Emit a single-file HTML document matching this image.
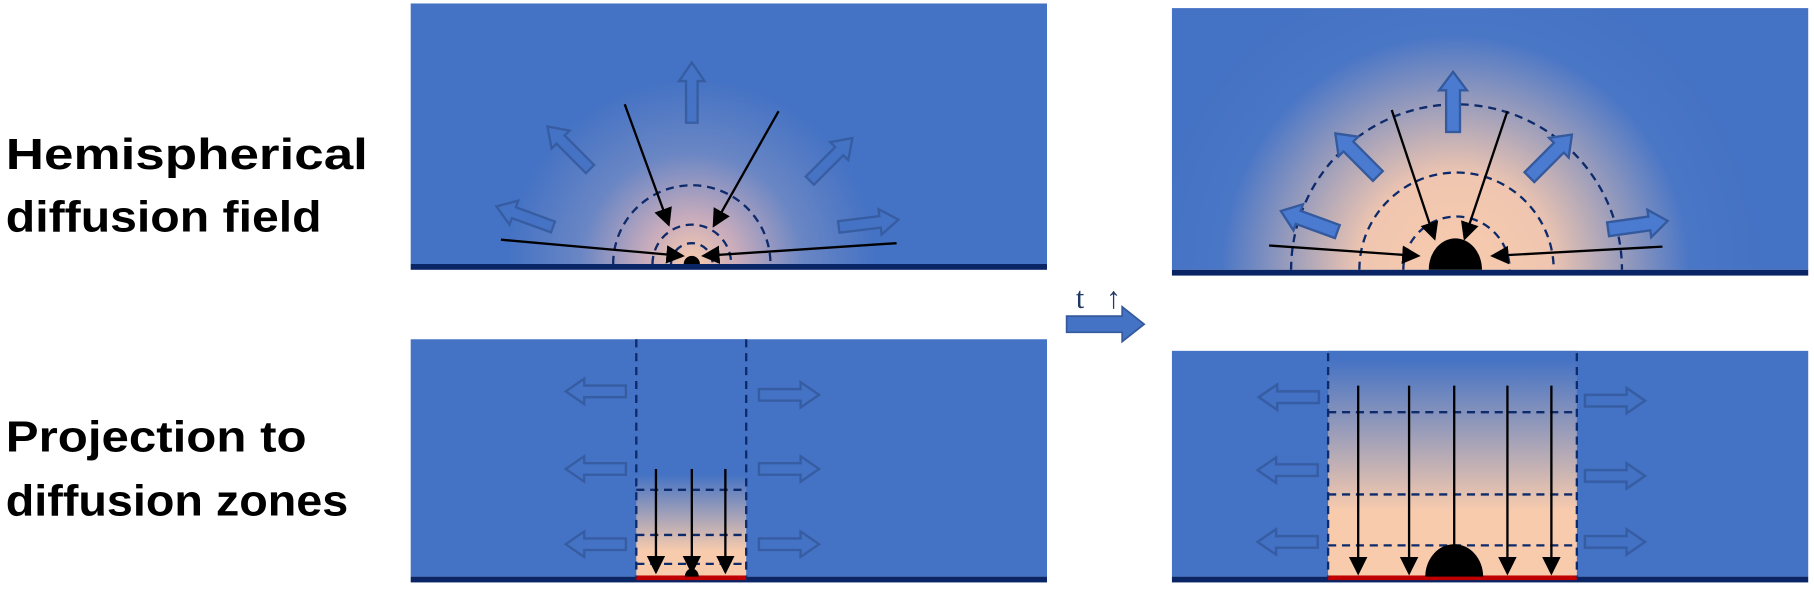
<!DOCTYPE html>
<html><head><meta charset="utf-8"><style>html,body{margin:0;padding:0;background:#fff}svg{display:block}</style></head><body>
<svg width="1814" height="594" viewBox="0 0 1568 513" preserveAspectRatio="none" xmlns="http://www.w3.org/2000/svg">
<defs>
<radialGradient id="g1" cx="598" cy="228" r="160" gradientUnits="userSpaceOnUse">
<stop offset="0" stop-color="#F8CBAD"/><stop offset="0.25" stop-color="#c8acbc"/><stop offset="0.6" stop-color="#6a86c4"/><stop offset="1" stop-color="#4472C4"/></radialGradient>
<radialGradient id="g2" cx="1258" cy="233" r="270" gradientUnits="userSpaceOnUse">
<stop offset="0" stop-color="#F8CBAD"/><stop offset="0.3" stop-color="#f0c6b0"/><stop offset="0.75" stop-color="#4a76c6"/><stop offset="1" stop-color="#4472C4"/></radialGradient>
<linearGradient id="l1" x1="0" y1="410" x2="0" y2="498" gradientUnits="userSpaceOnUse">
<stop offset="0" stop-color="#4472C4"/><stop offset="0.75" stop-color="#F8CBAD"/></linearGradient>
<linearGradient id="l2" x1="0" y1="310" x2="0" y2="498" gradientUnits="userSpaceOnUse">
<stop offset="0" stop-color="#4472C4"/><stop offset="0.7" stop-color="#F8CBAD"/></linearGradient>
<marker id="ah" markerWidth="8" markerHeight="8" refX="7" refY="4" orient="auto" markerUnits="strokeWidth"><path d="M0,0 L8,4 L0,8z" fill="#000"/></marker>
</defs>
<!-- left top -->
<rect x="355" y="3" width="550" height="225" fill="url(#g1)"/>
<rect x="355" y="228" width="550" height="5" fill="#0a2566"/>
<g fill="none" stroke="#0d2a6b" stroke-width="2" stroke-dasharray="7,5">
<path d="M530,228 A68,68 0 0 1 666,228"/><path d="M564,228 A34,34 0 0 1 632,228"/><path d="M580,228 A18,18 0 0 1 616,228"/></g>
<path d="M591,228 A7,7 0 0 1 605,228z" fill="#000"/>
<g stroke="#000" stroke-width="2" marker-end="url(#ah)">
<line x1="540" y1="90" x2="578" y2="194"/><line x1="673" y1="96" x2="617" y2="195"/>
<line x1="433" y1="207" x2="590" y2="221"/><line x1="775" y1="210" x2="608" y2="221"/></g>
<g fill="#4472C4" stroke="#34599c" stroke-width="2" opacity="0.85">
<path d="M0,-5 L36,-5 L36,-11 L52,0 L36,11 L36,5 L0,5z" transform="translate(598,106) rotate(-90)"/>
<path d="M0,-5 L36,-5 L36,-11 L52,0 L36,11 L36,5 L0,5z" transform="translate(510,146) rotate(-135)"/>
<path d="M0,-5 L36,-5 L36,-11 L52,0 L36,11 L36,5 L0,5z" transform="translate(700,156) rotate(-45)"/>
<path d="M0,-5 L36,-5 L36,-11 L52,0 L36,11 L36,5 L0,5z" transform="translate(478,196) rotate(-160)"/>
<path d="M0,-5 L36,-5 L36,-11 L52,0 L36,11 L36,5 L0,5z" transform="translate(725,196) rotate(-7)"/></g>
<!-- right top -->
<rect x="1013" y="7" width="550" height="226" fill="url(#g2)"/>
<rect x="1013" y="233" width="550" height="5" fill="#0a2566"/>
<g fill="none" stroke="#0d2a6b" stroke-width="2" stroke-dasharray="7,5">
<path d="M1116,233 A143,143 0 0 1 1402,233"/><path d="M1175,233 A84,84 0 0 1 1343,233"/><path d="M1213,233 A46,46 0 0 1 1305,233"/></g>
<path d="M1235,233 A22,26 0 0 1 1281,233z" fill="#000"/>
<g stroke="#000" stroke-width="2" marker-end="url(#ah)">
<line x1="1203" y1="95" x2="1240" y2="206"/><line x1="1303" y1="96" x2="1266" y2="206"/>
<line x1="1097" y1="212" x2="1226" y2="221"/><line x1="1437" y1="213" x2="1290" y2="221"/></g>
<g fill="#4a7bd0" stroke="#34599c" stroke-width="2">
<path d="M0,-6 L36,-6 L36,-12 L52,0 L36,12 L36,6 L0,6z" transform="translate(1256,114) rotate(-90)"/>
<path d="M0,-6 L36,-6 L36,-12 L52,0 L36,12 L36,6 L0,6z" transform="translate(1191,152) rotate(-135)"/>
<path d="M0,-6 L36,-6 L36,-12 L52,0 L36,12 L36,6 L0,6z" transform="translate(1322,153) rotate(-45)"/>
<path d="M0,-6 L36,-6 L36,-12 L52,0 L36,12 L36,6 L0,6z" transform="translate(1156,200) rotate(-160)"/>
<path d="M0,-6 L36,-6 L36,-12 L52,0 L36,12 L36,6 L0,6z" transform="translate(1390,198) rotate(-8)"/></g>
<!-- left bottom -->
<rect x="355" y="293" width="550" height="205" fill="#4472C4"/>
<rect x="550" y="293" width="95" height="205" fill="url(#l1)"/>
<rect x="355" y="498" width="550" height="5" fill="#0a2566"/>
<rect x="550" y="497" width="95" height="4" fill="#c00000"/>
<g fill="none" stroke="#0d2a6b" stroke-width="2" stroke-dasharray="7,5">
<line x1="550" y1="293" x2="550" y2="498"/><line x1="645" y1="293" x2="645" y2="498"/>
<line x1="550" y1="423" x2="645" y2="423"/><line x1="550" y1="462" x2="645" y2="462"/><line x1="550" y1="487" x2="645" y2="487"/></g>
<path d="M592,498 A6,7 0 0 1 604,498z" fill="#000"/>
<g stroke="#000" stroke-width="2" marker-end="url(#ah)">
<line x1="567" y1="405" x2="567" y2="494"/><line x1="598" y1="405" x2="598" y2="494"/><line x1="627" y1="405" x2="627" y2="494"/></g>
<g fill="#4472C4" stroke="#34599c" stroke-width="2" opacity="0.85">
<path d="M0,-5 L36,-5 L36,-11 L52,0 L36,11 L36,5 L0,5z" transform="translate(541,338) rotate(180)"/>
<path d="M0,-5 L36,-5 L36,-11 L52,0 L36,11 L36,5 L0,5z" transform="translate(541,405) rotate(180)"/>
<path d="M0,-5 L36,-5 L36,-11 L52,0 L36,11 L36,5 L0,5z" transform="translate(541,470) rotate(180)"/>
<path d="M0,-5 L36,-5 L36,-11 L52,0 L36,11 L36,5 L0,5z" transform="translate(656,341)"/>
<path d="M0,-5 L36,-5 L36,-11 L52,0 L36,11 L36,5 L0,5z" transform="translate(656,405)"/>
<path d="M0,-5 L36,-5 L36,-11 L52,0 L36,11 L36,5 L0,5z" transform="translate(656,470)"/></g>
<!-- right bottom -->
<rect x="1013" y="303" width="550" height="195" fill="#4472C4"/>
<rect x="1148" y="303" width="215" height="195" fill="url(#l2)"/>
<rect x="1013" y="498" width="550" height="5" fill="#0a2566"/>
<rect x="1148" y="497" width="215" height="4" fill="#c00000"/>
<g fill="none" stroke="#0d2a6b" stroke-width="2" stroke-dasharray="7,5">
<line x1="1148" y1="305" x2="1148" y2="498"/><line x1="1363" y1="305" x2="1363" y2="498"/>
<line x1="1148" y1="356" x2="1363" y2="356"/><line x1="1148" y1="427" x2="1363" y2="427"/><line x1="1148" y1="471" x2="1363" y2="471"/></g>
<path d="M1232,498 A25,28 0 0 1 1282,498z" fill="#000"/>
<g stroke="#000" stroke-width="2" marker-end="url(#ah)">
<line x1="1174" y1="333" x2="1174" y2="495"/><line x1="1218" y1="333" x2="1218" y2="495"/>
<line x1="1303" y1="333" x2="1303" y2="495"/><line x1="1341" y1="333" x2="1341" y2="495"/></g>
<line x1="1257" y1="333" x2="1257" y2="472" stroke="#000" stroke-width="2"/>
<g fill="#4472C4" stroke="#34599c" stroke-width="2" opacity="0.85">
<path d="M0,-5 L36,-5 L36,-11 L52,0 L36,11 L36,5 L0,5z" transform="translate(1140,343) rotate(180)"/>
<path d="M0,-5 L36,-5 L36,-11 L52,0 L36,11 L36,5 L0,5z" transform="translate(1139,406) rotate(180)"/>
<path d="M0,-5 L36,-5 L36,-11 L52,0 L36,11 L36,5 L0,5z" transform="translate(1139,468) rotate(180)"/>
<path d="M0,-5 L36,-5 L36,-11 L52,0 L36,11 L36,5 L0,5z" transform="translate(1370,346)"/>
<path d="M0,-5 L36,-5 L36,-11 L52,0 L36,11 L36,5 L0,5z" transform="translate(1370,411)"/>
<path d="M0,-5 L36,-5 L36,-11 L52,0 L36,11 L36,5 L0,5z" transform="translate(1370,468)"/></g>
<!-- middle arrow -->
<path d="M922,273 L970,273 L970,265 L989,280 L970,295 L970,287 L922,287z" fill="#4472C4" stroke="#34599c" stroke-width="1.5"/>
<text x="930" y="266" font-family="Liberation Serif, serif" font-size="26" fill="#1f3864">t</text>
<text x="956" y="266" font-family="Liberation Sans, sans-serif" font-size="26" fill="#1f3864">↑</text>
<!-- labels -->
<g font-family="Liberation Sans, sans-serif" font-weight="bold" font-size="38" fill="#000">
<text x="5" y="146" textLength="313" lengthAdjust="spacingAndGlyphs">Hemispherical</text>
<text x="5" y="200" textLength="273" lengthAdjust="spacingAndGlyphs">diffusion field</text>
<text x="5" y="390" textLength="260" lengthAdjust="spacingAndGlyphs">Projection to</text>
<text x="5" y="445" textLength="296" lengthAdjust="spacingAndGlyphs">diffusion zones</text>
</g>
</svg>
</body></html>
